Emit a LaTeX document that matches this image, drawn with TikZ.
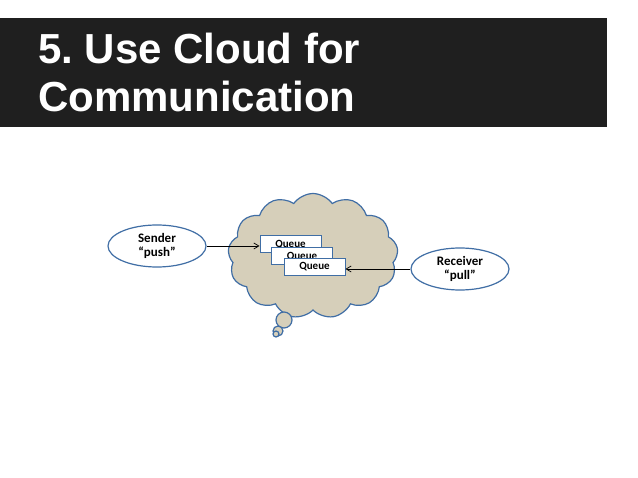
\documentclass[tikz,border=0pt]{standalone}
\usepackage{fontspec}
\setmainfont{Carlito}
\newfontfamily\titlefont{Liberation Sans}
\usetikzlibrary{shapes.symbols,shapes.geometric,arrows.meta}
\definecolor{cloudfill}{RGB}{214,207,186}
\definecolor{edgeblue}{RGB}{64,110,165}
\tikzset{
  ell/.style={ellipse,draw=edgeblue,line width=1.2pt,fill=white,minimum width=98pt,minimum height=42pt,inner sep=0pt,align=center,font=\bfseries\fontsize{13}{14}\selectfont},
  qbox/.style={draw=edgeblue,line width=1pt,fill=white,minimum width=61pt,minimum height=17pt,inner sep=0pt,font=\bfseries\fontsize{11}{12}\selectfont},
  conn/.style={-{Straight Barb[length=5pt,width=6pt]},line width=0.7pt}
}
\begin{document}
\frenchspacing
\begin{tikzpicture}[x=1pt,y=-1pt]
\useasboundingbox (0,0) rectangle (638,478);
\fill[white] (0,0) rectangle (638,478);
\fill[black!88] (0,18) rectangle (607,127);
\node[anchor=west,text=white,inner sep=0pt,font=\titlefont\bfseries\fontsize{42}{46}\selectfont] (t1) at (38,48) {5. Use Cloud for};
\node[anchor=west,text=white,inner sep=0pt,font=\titlefont\bfseries\fontsize{42}{46}\selectfont] (t2) at (38,96) {Communication};
\node[cloud,cloud puffs=13,cloud puff arc=110,aspect=1.4,draw=edgeblue,line width=1.2pt,fill=cloudfill,minimum width=170pt,minimum height=125pt] (cl) at (313,256) {};
\draw[edgeblue,line width=1.2pt,fill=cloudfill] (284,320) circle (8);
\draw[edgeblue,line width=1.2pt,fill=cloudfill] (278,331) circle (5);
\draw[edgeblue,line width=1.2pt,fill=cloudfill] (276,334) circle (3);
\node[qbox] (q1) at (290.5,244.5) {Queue};
\node[qbox] (q2) at (302,256.5) {Queue};
\node[qbox] (q3) at (314.5,267) {Queue};
\node[ell] (s) at (157,246) {Sender\\“push”};
\node[ell] (r) at (460,269) {Receiver\\“pull”};
\draw[conn] (s.east) -- (q1.west |- s.east);
\draw[conn] (r.west) -- (q3.east |- r.west);
\end{tikzpicture}
\end{document}
